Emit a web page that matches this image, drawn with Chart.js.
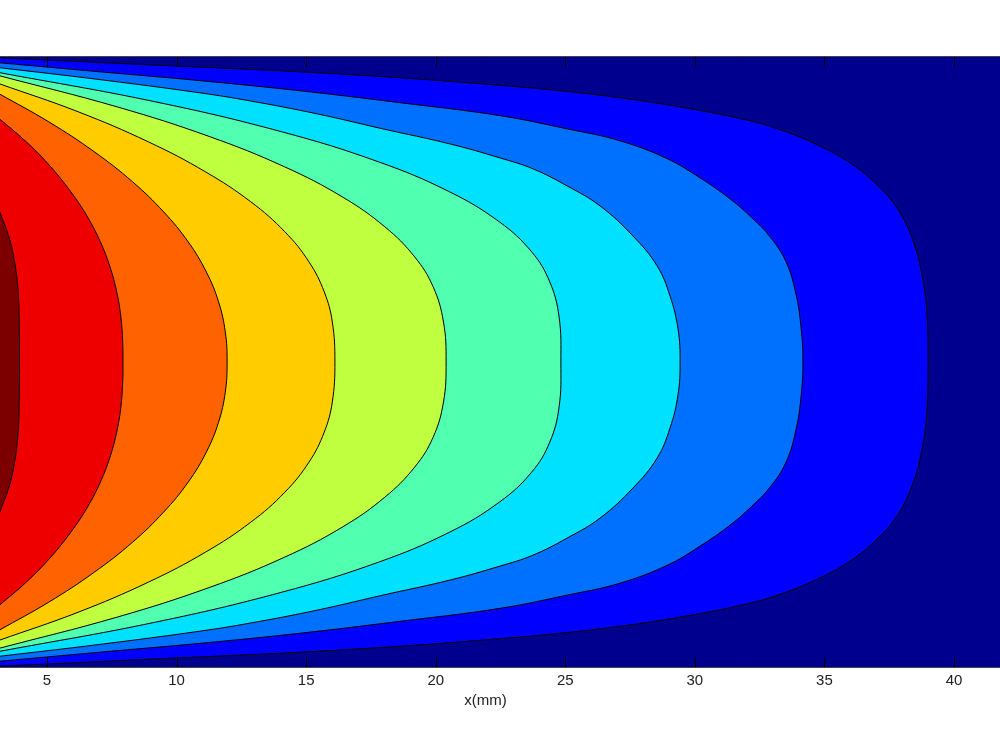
<!DOCTYPE html>
<html>
<head>
<meta charset="utf-8">
<script src="https://cdn.jsdelivr.net/npm/chart.js@4.4.0/dist/chart.umd.min.js"></script>
<style>
  html, body { margin: 0; padding: 0; background: #fff; overflow: hidden; }
  #wrap { position: absolute; left: -29px; top: 0; width: 1029px; height: 750px; }
</style>
</head>
<body>
<div id="wrap"><canvas id="myChart" width="1029" height="750"></canvas></div>
<script>
// x axis ticks (mm)
const xTicks = [5, 10, 15, 20, 25, 30, 35, 40];

// contour lines, upper half only (the field is symmetric about y = 0)
// read from the left edge down to the centre line
const darkRedX = [3.16, 3.53, 3.75, 3.87, 3.92, 3.94];
const darkRedY = [5.83, 4.83, 3.86, 2.90, 1.93, 0];

const redX = [3.16, 4.20, 5.14, 5.92, 6.56, 7.06, 7.43, 7.69, 7.85, 7.92, 7.93];
const redY = [9.38, 8.49, 7.53, 6.56, 5.60, 4.63, 3.67, 2.70, 1.74, 0.77, 0];

const orangeX = [3.16, 5.07, 6.82, 8.30, 9.50, 10.45, 11.15, 11.62, 11.88, 11.95];
const orangeY = [10.34, 9.26, 8.11, 6.95, 5.79, 4.63, 3.47, 2.32, 1.16, 0];

const goldX = [3.16, 6.20, 8.91, 11.12, 12.86, 14.18, 15.11, 15.70, 16.01, 16.11];
const goldY = [10.73, 9.65, 8.49, 7.33, 6.18, 5.02, 3.86, 2.70, 1.54, 0];

const limeX = [3.16, 7.70, 11.28, 14.16, 16.39, 18.04, 19.19, 19.90, 20.30, 20.40];
const limeY = [11.04, 9.84, 8.69, 7.53, 6.37, 5.21, 4.05, 2.90, 1.54, 0];

const mintX = [3.16, 9.15, 14.05, 17.79, 20.54, 22.46, 23.70, 24.40, 24.76, 24.83];
const mintY = [11.16, 10.04, 8.88, 7.72, 6.56, 5.40, 4.25, 3.09, 1.74, 0];

const cyanX = [3.16, 7.04, 10.90, 12.83, 15.42, 17.96, 20.55, 22.48, 23.75, 25.07, 26.34, 27.61, 28.54, 29.04, 29.35, 29.43];
const cyanY = [11.35, 10.89, 10.38, 10.07, 9.57, 8.99, 8.41, 7.87, 7.45, 6.79, 6.02, 4.86, 3.71, 2.55, 1.27, 0];

const lightBlueX = [3.16, 7.04, 10.90, 14.76, 18.62, 22.48, 25.07, 27.11, 28.93, 30.20, 31.36, 32.20, 32.90, 33.52, 33.90, 34.10, 34.17];
const lightBlueY = [11.54, 11.19, 10.85, 10.46, 10.00, 9.50, 8.99, 8.53, 7.84, 7.10, 6.29, 5.56, 4.83, 3.86, 2.62, 1.31, 0];

const blueX = [3.16, 8.97, 14.76, 18.62, 21.71, 24.41, 27.11, 29.81, 32.13, 33.40, 34.71, 35.99, 37.03, 37.80, 38.42, 38.80, 38.96, 39.00];
const blueY = [11.73, 11.46, 11.19, 10.96, 10.73, 10.50, 10.19, 9.77, 9.30, 8.92, 8.38, 7.68, 6.83, 5.94, 4.67, 3.17, 1.78, 0];

// fill colours (jet), innermost first
const levelColors = ['#7c0000', '#ee0000', '#ff6200', '#ffcc00', '#c0ff40', '#50ffb0', '#00e0ff', '#0070ff', '#0000ff'];
const outsideColor = '#00008f';

const levelX = [darkRedX, redX, orangeX, goldX, limeX, mintX, cyanX, lightBlueX, blueX];
const levelY = [darkRedY, redY, orangeY, goldY, limeY, mintY, cyanY, lightBlueY, blueY];

// upper half + mirrored lower half -> closed region
function closedShape(xs, ys) {
    const upper = xs.map((x, i) => ({ x: x, y: ys[i] }));
    const lower = upper.slice(0, -1).reverse().map(p => ({ x: p.x, y: -p.y }));
    return upper.concat(lower);
}

const datasets = levelX.map((xs, i) => ({
    data: closedShape(xs, levelY[i]),
    showLine: true,
    fill: 'shape',
    backgroundColor: levelColors[i],
    borderColor: '#000',
    borderWidth: 1,
    pointRadius: 0,
    tension: 0.4
}));

// dark blue outside the outermost contour
const backgroundPlugin = {
    id: 'background',
    beforeDatasetsDraw(chart) {
        const { ctx, chartArea: a } = chart;
        ctx.save();
        ctx.fillStyle = outsideColor;
        ctx.fillRect(a.left, a.top, a.right - a.left, a.bottom - a.top);
        ctx.restore();
    }
};

// box lines and inward tick marks
const framePlugin = {
    id: 'frame',
    afterDatasetsDraw(chart) {
        const { ctx, chartArea: a } = chart;
        const xScale = chart.scales.x;
        ctx.save();
        ctx.lineWidth = 1;
        ctx.strokeStyle = '#000';
        ctx.beginPath();
        xTicks.forEach(v => {
            const px = Math.round(xScale.getPixelForValue(v)) + 0.5;
            ctx.moveTo(px, a.top);
            ctx.lineTo(px, a.top + 11);
            ctx.moveTo(px, a.bottom);
            ctx.lineTo(px, a.bottom - 11);
        });
        ctx.stroke();
        ctx.strokeStyle = '#444';
        ctx.beginPath();
        ctx.moveTo(a.left, a.top + 0.5);
        ctx.lineTo(a.right, a.top + 0.5);
        ctx.moveTo(a.left, a.bottom - 0.5);
        ctx.lineTo(a.right, a.bottom - 0.5);
        ctx.stroke();
        ctx.restore();
    }
};

const ctx = document.getElementById('myChart').getContext('2d');
new Chart(ctx, {
    type: 'scatter',
    data: { datasets: datasets },
    options: {
        responsive: false,
        animation: false,
        layout: { padding: { top: 56, left: 0, right: 0, bottom: 42.5 } },
        plugins: {
            legend: { display: false },
            tooltip: { enabled: false }
        },
        scales: {
            x: {
                type: 'linear',
                min: 2.067,
                max: 41.775,
                afterBuildTicks: scale => { scale.ticks = xTicks.map(v => ({ value: v })); },
                grid: { display: false, drawTicks: false },
                border: { display: false },
                ticks: {
                    padding: 4,
                    color: '#222',
                    font: { family: 'Liberation Sans', size: 15 },
                    callback: v => String(v)
                },
                title: {
                    display: true,
                    text: 'x(mm)',
                    color: '#222',
                    padding: { top: 0, bottom: 0 },
                    font: { family: 'Liberation Sans', size: 15, lineHeight: 0.9 }
                }
            },
            y: {
                type: 'linear',
                display: false,
                min: -11.8,
                max: 11.8
            }
        }
    },
    plugins: [backgroundPlugin, framePlugin]
});
</script>
</body>
</html>
